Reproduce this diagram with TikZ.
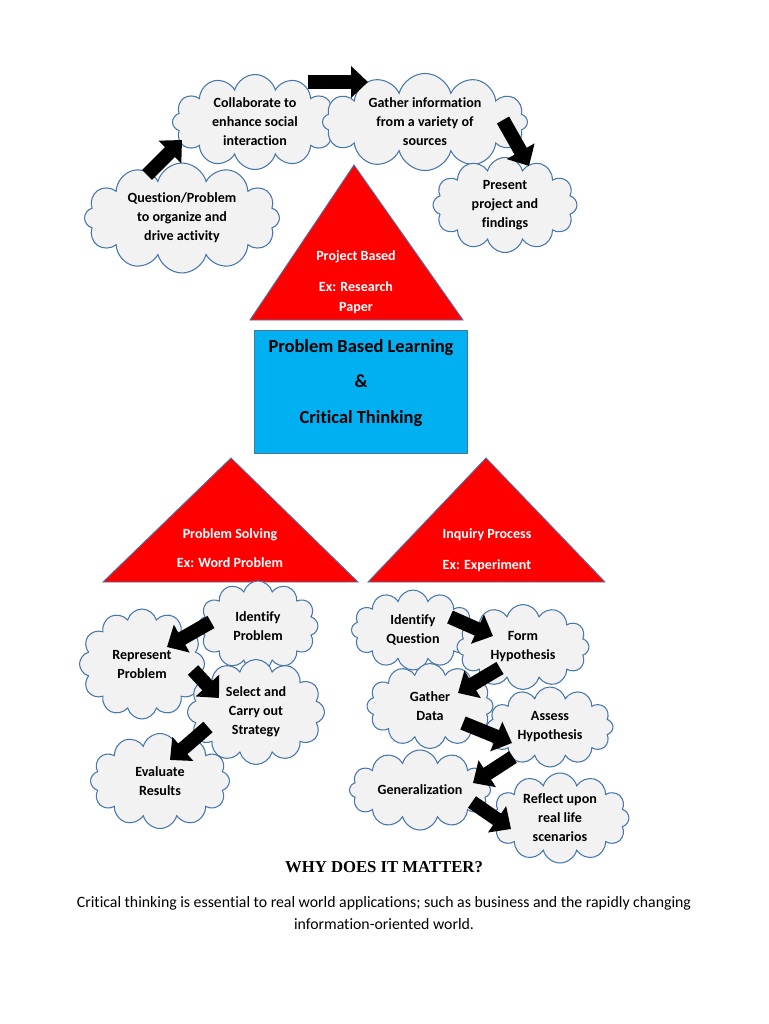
\documentclass[tikz,border=0pt]{standalone}
\usepackage{fontspec}
\setmainfont{Carlito}[Ligatures=NoCommon]
\newfontfamily\headfont{Liberation Serif}
\usetikzlibrary{shapes.symbols,arrows.meta,calc}
\definecolor{cloudfill}{RGB}{242,242,242}
\definecolor{cloudline}{RGB}{70,118,170}
\definecolor{trired}{RGB}{255,0,0}
\definecolor{boxblue}{RGB}{0,176,240}
\tikzset{
  thought/.style={cloud, cloud puffs=12, cloud ignores aspect, draw=cloudline, fill=cloudfill, line width=0.6pt, inner sep=0pt, align=center, font=\fontsize{8}{10.8}\selectfont\bfseries},
  blk/.style={line width=0.28cm, -{Triangle[width=0.62cm,length=0.34cm]}, black},
  tritext/.style={text=white, align=center, font=\fontsize{8}{11.4}\selectfont\bfseries}
}
\begin{document}
\begin{tikzpicture}[x=0.02cm,y=-0.02cm] %1 unit = 1 pixel of the 768x1024 page, y runs downwards
\useasboundingbox (0,0) rectangle (768,1024);
\fill[white] (0,0) rectangle (768,1024); %Page background
%Project based cycle
\node[thought, minimum width=3.9cm, minimum height=2.2cm] (quest) at (182,218) {Question/Problem\\to organize and\\drive activity};
\node[thought, minimum width=3.3cm, minimum height=1.9cm] (collab) at (255,122) {Collaborate to\\enhance social\\interaction};
\node[thought, minimum width=4.1cm, minimum height=1.76cm] (gather) at (425,122) {Gather information\\from a variety of\\sources};
\node[thought, minimum width=2.88cm, minimum height=1.9cm] (present) at (505,205) {Present\\project and\\findings};
%Red triangle of the project branch
\filldraw[fill=trired, draw=cloudline, line width=0.5pt] (354,165) -- (463,320) -- (250,320) -- cycle;
\node[tritext] (projtitle) at (356,257) {Project Based};
\node[tritext] (projex) at (356,298) {Ex: Research\\Paper};
%Central box
\node[draw=cloudline, fill=boxblue, line width=0.5pt, minimum width=4.26cm, minimum height=2.46cm] (pbl) at (360.5,391.5) {};
\node[align=center, font=\fontsize{10.5}{20.2}\selectfont\bfseries] (pbltext) at (361,383) {Problem Based Learning\\\&\\Critical Thinking};
%Red triangles of the two lower branches
\filldraw[fill=trired, draw=cloudline, line width=0.5pt] (231,458) -- (358,582) -- (103,582) -- cycle;
\filldraw[fill=trired, draw=cloudline, line width=0.5pt] (486,458) -- (605,582) -- (368,582) -- cycle;
\node[tritext] (solvtitle) at (230,535) {Problem Solving};
\node[tritext] (solvex) at (230,563) {Ex: Word Problem};
\node[tritext] (inqtitle) at (487,535) {Inquiry Process};
\node[tritext] (inqex) at (487,566) {Ex: Experiment};
%Problem solving clouds
\node[thought, minimum width=2.4cm, minimum height=1.8cm] (idprob) at (258,626) {Identify\\Problem};
\node[thought, minimum width=2.5cm, minimum height=2.2cm] (repprob) at (142,664) {Represent\\Problem};
\node[thought, minimum width=2.74cm, minimum height=2.1cm] (select) at (256,712) {Select and\\Carry out\\Strategy};
\node[thought, minimum width=2.78cm, minimum height=1.9cm] (evalres) at (160,781) {Evaluate\\Results};
%Inquiry clouds
\node[thought, minimum width=2.46cm, minimum height=1.6cm] (idquest) at (413,630) {Identify\\Question};
\node[thought, minimum width=2.64cm, minimum height=1.7cm] (form) at (523,647) {Form\\Hypothesis};
\node[thought, minimum width=2.52cm, minimum height=1.7cm] (gdata) at (430,706) {Gather\\Data};
\node[thought, minimum width=2.52cm, minimum height=1.6cm] (assess) at (550,727) {Assess\\Hypothesis};
\node[thought, minimum width=2.82cm, minimum height=1.6cm] (general) at (420,790) {Generalization};
\node[thought, minimum width=2.76cm, minimum height=1.8cm] (reflect) at (560,818) {Reflect upon\\real life\\scenarios};
%Block arrows
\draw[blk] ($(quest)+(-35,-43)$) -- ($(collab)+(-73,18)$);
\draw[blk] ($(collab)+(53,-40)$) -- ($(gather)+(-57,-40)$);
\draw[blk] ($(gather)+(78,-2)$) -- ($(present)+(24,-39)$);
\draw[blk] ($(idprob)+(-47,-4)$) -- ($(repprob)+(25,-17)$);
\draw[blk] ($(repprob)+(51,6)$) -- ($(select)+(-37,-14)$);
\draw[blk] ($(select)+(-48,15)$) -- ($(evalres)+(10,-21)$);
\draw[blk] ($(idquest)+(37,-13)$) -- ($(form)+(-30,-11)$);
\draw[blk] ($(form)+(-23,21)$) -- ($(gdata)+(28,-13)$);
\draw[blk] ($(gdata)+(33,17)$) -- ($(assess)+(-38,16)$);
\draw[blk] ($(assess)+(-37,30)$) -- ($(general)+(53,-7)$);
\draw[blk] ($(general)+(52,12)$) -- ($(reflect)+(-49,11)$);
%Closing text
\node[font=\headfont\bfseries\fontsize{9.5}{11}\selectfont] (why) at (384,867) {WHY DOES IT MATTER?};
\node[align=center, font=\fontsize{9}{13}\selectfont] (body) at (384,913) {Critical thinking is essential to real world applications; such as business and the rapidly changing\\information-oriented world.};
\end{tikzpicture}
\end{document}
